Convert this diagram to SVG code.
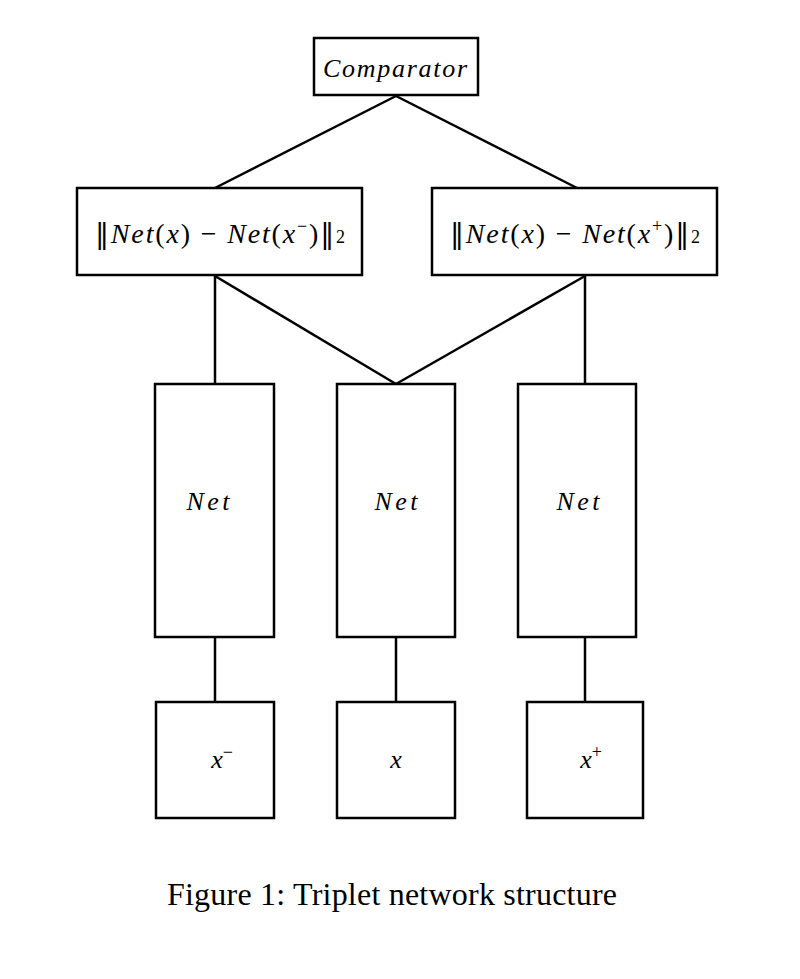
<svg xmlns="http://www.w3.org/2000/svg" width="800" height="979" viewBox="0 0 800 979">
<style>
.box{fill:#fff;stroke:#000;stroke-width:2.5}
.ln{stroke:#000;stroke-width:2.5;fill:none}
.m{font-family:"Liberation Serif",serif;font-style:italic;font-size:26px;fill:#000;text-anchor:middle}
.n{font-size:28px}
.r{font-style:normal}
.bar{font-family:"DejaVu Serif",serif;font-style:normal}
.cap{font-family:"Liberation Serif",serif;font-size:32px;fill:#000;text-anchor:middle}
</style>
<rect width="800" height="979" fill="#fff"/>
<g id="connectors">
<line class="ln" x1="396" y1="96" x2="215" y2="188"/>
<line class="ln" x1="396" y1="96" x2="577" y2="188"/>
<line class="ln" x1="215" y1="276" x2="215" y2="384"/>
<line class="ln" x1="215" y1="276" x2="396" y2="384"/>
<line class="ln" x1="585" y1="276" x2="585" y2="384"/>
<line class="ln" x1="585" y1="276" x2="396" y2="384"/>
<line class="ln" x1="215" y1="638" x2="215" y2="702"/>
<line class="ln" x1="396" y1="638" x2="396" y2="702"/>
<line class="ln" x1="585" y1="638" x2="585" y2="702"/>
</g>
<g id="comparator">
<rect class="box" x="314" y="38" width="164" height="57"/>
<text class="m" x="395" y="77" textLength="144" lengthAdjust="spacing">Comparator</text>
</g>
<g id="dist-neg">
<rect class="box" x="77" y="188" width="285" height="87"/>
<text class="m n" x="220" y="243" textLength="250" lengthAdjust="spacing"><tspan class="bar">‖</tspan>Net<tspan class="r">(</tspan>x<tspan class="r">)</tspan><tspan class="r"> − </tspan>Net<tspan class="r">(</tspan>x<tspan class="r" font-size="18" dy="-11">−</tspan><tspan class="r" dy="11">)</tspan><tspan class="bar">‖</tspan><tspan class="r" font-size="18">2</tspan></text>
</g>
<g id="dist-pos">
<rect class="box" x="432" y="188" width="285" height="87"/>
<text class="m n" x="575" y="243" textLength="250" lengthAdjust="spacing"><tspan class="bar">‖</tspan>Net<tspan class="r">(</tspan>x<tspan class="r">)</tspan><tspan class="r"> − </tspan>Net<tspan class="r">(</tspan>x<tspan class="r" font-size="18" dy="-11">+</tspan><tspan class="r" dy="11">)</tspan><tspan class="bar">‖</tspan><tspan class="r" font-size="18">2</tspan></text>
</g>
<g id="net-neg">
<rect class="box" x="155" y="384" width="119" height="253"/>
<text class="m" x="208" y="510" textLength="43" lengthAdjust="spacing">Net</text>
</g>
<g id="net-anchor">
<rect class="box" x="337" y="384" width="118" height="253"/>
<text class="m" x="396" y="510" textLength="43" lengthAdjust="spacing">Net</text>
</g>
<g id="net-pos">
<rect class="box" x="518" y="384" width="118" height="253"/>
<text class="m" x="578" y="510" textLength="43" lengthAdjust="spacing">Net</text>
</g>
<g id="input-neg">
<rect class="box" x="156" y="702" width="118" height="116"/>
<text class="m" x="222" y="768">x<tspan class="r" font-size="18" dy="-10">−</tspan></text>
</g>
<g id="input-anchor">
<rect class="box" x="337" y="702" width="118" height="116"/>
<text class="m" x="396" y="768">x</text>
</g>
<g id="input-pos">
<rect class="box" x="527" y="702" width="116" height="116"/>
<text class="m" x="591" y="768">x<tspan class="r" font-size="18" dy="-10">+</tspan></text>
</g>
<text class="cap" x="392" y="905" textLength="450" lengthAdjust="spacing">Figure 1: Triplet network structure</text>
</svg>
